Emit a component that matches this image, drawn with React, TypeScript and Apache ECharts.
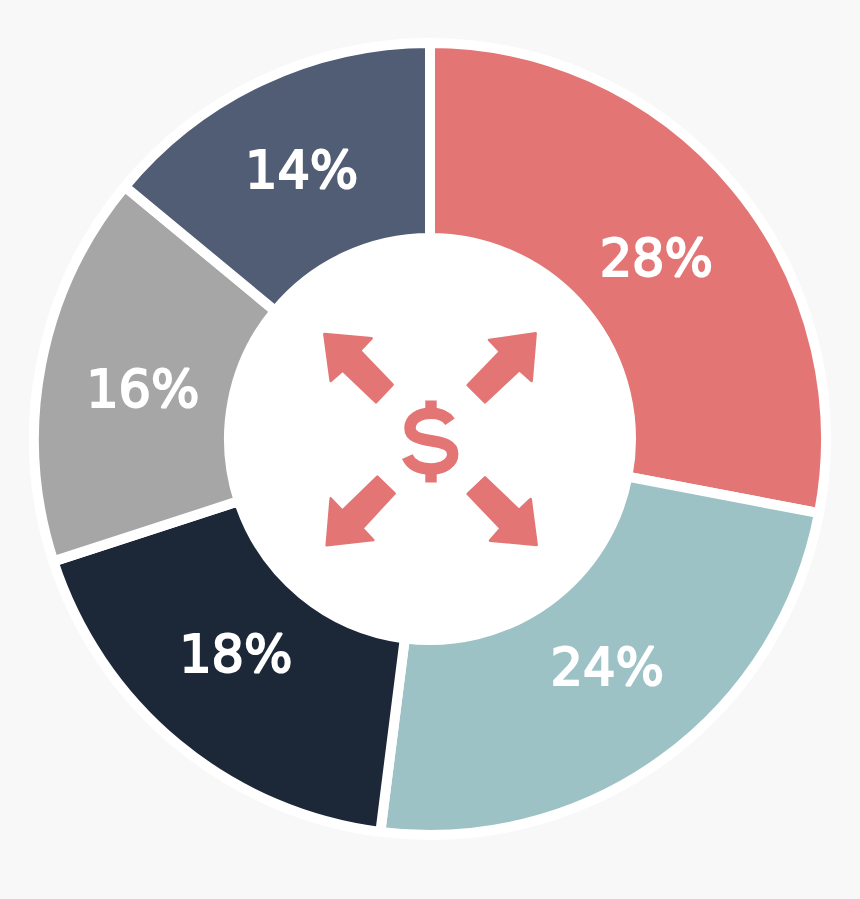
import React, { useEffect, useRef } from "react";
import * as echarts from "echarts";

const categories = ["A", "B", "C", "D", "E"];
const shares = [28, 24, 18, 16, 14];
const colors = ["#E37574", "#9DC2C6", "#1C2737", "#A6A6A6", "#505D74"];
const labelOffsets = [[-6, 12], [0, -15], [-2, -17], [9, 7], [0, 4]];

const arrowsZoom = [
  [[73, 72], [215, 85], [180, 122], [278, 224], [228, 277], [128, 182], [92, 213]],
  [[707, 70], [695, 213], [658, 180], [555, 277], [503, 225], [600, 125], [567, 90]],
  [[80, 706], [92, 565], [127, 602], [232, 500], [284, 550], [187, 655], [220, 690]],
  [[710, 705], [570, 692], [602, 655], [503, 552], [555, 502], [657, 600], [692, 567]],
];

const dollarCurve =
  "M450 421.7 C446 416 439 413.3 431 413.3 C419 413.3 410 419 410 428.3 C410 437 420 439 431 440.7 C443 442.5 452.7 445 452.7 454 C452.7 463 443 469 431 469 C420 469 411 465 407.3 456.7";

echarts.graphic.registerShape("dollarCurve", echarts.graphic.extendPath(dollarCurve, {}) as any);

export default function App() {
  const ref = useRef<HTMLDivElement>(null);
  useEffect(() => {
    document.body.style.margin = "0";
    const chart = echarts.init(ref.current!, undefined, { renderer: "svg" });
    const red = colors[0];
    chart.setOption({
      animation: false,
      backgroundColor: "#F8F8F8",
      series: [
        {
          type: "pie",
          center: [430, 439],
          radius: [201, 396],
          startAngle: 90,
          clockwise: true,
          avoidLabelOverlap: false,
          silent: true,
          z: 2,
          itemStyle: { borderColor: "#FFFFFF", borderWidth: 10 },
          label: {
            show: true,
            position: "inside",
            formatter: "{c}%",
            color: "#FFFFFF",
            fontFamily: "DejaVu Sans",
            fontWeight: "normal",
            fontSize: 51,
            textBorderColor: "#FFFFFF",
            textBorderWidth: 2,
          },
          labelLine: { show: false },
          data: shares.map((value, i) => ({
            name: categories[i],
            value,
            itemStyle: { color: colors[i] },
            label: { offset: labelOffsets[i] },
          })),
        },
      ],
      graphic: [
        { type: "circle", z: 0, shape: { cx: 430, cy: 439, r: 398 }, style: { fill: "#FFFFFF" } },
        ...arrowsZoom.map((pts) => ({
          type: "polygon",
          z: 10,
          shape: { points: pts.map(([x, y]) => [300 + x / 3, 310 + y / 3]) },
          style: { fill: red, stroke: red, lineWidth: 2.5, lineJoin: "round" },
        })),
        {
          type: "dollarCurve",
          z: 10,
          x: 0,
          y: 0,
          style: { fill: "none", stroke: red, lineWidth: 11.5 },
        },
        { type: "rect", z: 10, shape: { x: 425.3, y: 400.5, width: 11.4, height: 12 }, style: { fill: red } },
        { type: "rect", z: 10, shape: { x: 425.3, y: 470, width: 11.4, height: 12.5 }, style: { fill: red } },
      ],
    });
    return () => chart.dispose();
  }, []);
  return <div ref={ref} style={{ width: 860, height: 899 }} />;
}
